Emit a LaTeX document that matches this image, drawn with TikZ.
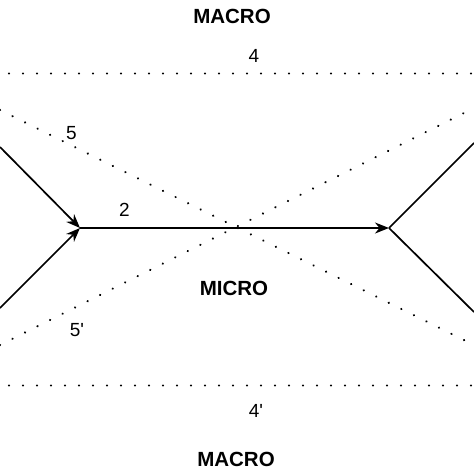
\documentclass[tikz,border=0pt]{standalone}
\usepackage{fontspec}
\setmainfont{Liberation Sans}[Ligatures=TeXOff]
\usetikzlibrary{arrows.meta,decorations.markings}
\begin{document}
\begin{tikzpicture}[x=1pt,y=-1pt,
  solidline/.style={line width=1.7pt,black},
  arr/.style={solidline,-{Stealth[length=14pt,width=11pt,inset=4.5pt]}},
  dotline/.style={draw=none,postaction={decorate},decoration={markings,
      mark=between positions 0 and 1 step 14pt with {\fill[black] (0,0) circle (1.2pt);}}},
  lbl/.style={font=\fontsize{19}{22}\selectfont,anchor=base,inner sep=0pt},
  big/.style={font=\fontsize{20.5}{24}\selectfont\bfseries,anchor=base,inner sep=0pt}]
\useasboundingbox (0,0) rectangle (474,474);
% coordinates
\coordinate (L1) at (0,147);
\coordinate (L2) at (0,308);
\coordinate (J1) at (80,228);
\coordinate (J2) at (389,228);
\coordinate (R1) at (474,143);
\coordinate (R2) at (474,312);
\coordinate (T1) at (9,73.5);
\coordinate (T2) at (480,73.5);
\coordinate (B1) at (9,385.5);
\coordinate (B2) at (480,385.5);
\coordinate (D1a) at (0,110);
\coordinate (D1b) at (480,348);
\coordinate (D2a) at (0,345);
\coordinate (D2b) at (480,105);
% dotted lines
\path[dotline] (T1) -- (T2);
\path[dotline] (B1) -- (B2);
\path[dotline] (D1a) -- (D1b);
\path[dotline] (D2a) -- (D2b);
% solid lines
\draw[arr] (L1) -- (J1);
\draw[arr] (L2) -- (J1);
\draw[arr] (J1) -- (J2);
\draw[solidline] (J2) -- (R1);
\draw[solidline] (J2) -- (R2);
% labels
\node[big] (macrotop) at (232,23.3) {MACRO};
\node[big] (macrobot) at (236,466.7) {MACRO};
\node[big] (micro) at (234,295) {MICRO};
\node[lbl] (l4) at (254,62.5) {4};
\node[lbl] (l4p) at (256,417.5) {4'};
\node[lbl] (l5) at (71.5,139.5) {5};
\node[lbl] (l5p) at (77,336) {5'};
\node[lbl] (l2) at (124.5,216.5) {2};
\end{tikzpicture}
\end{document}
